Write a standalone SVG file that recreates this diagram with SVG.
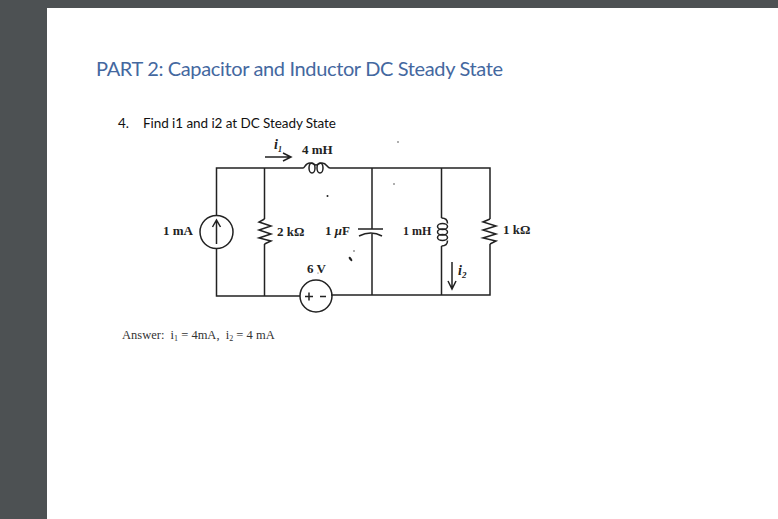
<svg xmlns="http://www.w3.org/2000/svg" width="778" height="519" viewBox="0 0 778 519">
<style>
.w{fill:none;stroke:#222;stroke-width:1.5}
.t{font-family:"Liberation Serif",serif;font-weight:bold;font-size:13px;fill:#222}
.i{font-family:"Liberation Serif",serif;font-style:italic;font-weight:bold;font-size:14px;fill:#222}
.c{font-family:Lato,"Liberation Sans",sans-serif;fill:#111;font-size:13.5px}
</style>
<rect width="778" height="519" fill="#4d5153"/>
<rect x="47" y="8" width="731" height="511" fill="#fff"/>
<text x="96" y="76" font-family="Lato,'Liberation Sans',sans-serif" font-size="20px" fill="#44689f" textLength="407">PART 2: Capacitor and Inductor DC Steady State</text>
<text class="c" x="118" y="128">4.</text>
<text class="c" x="143" y="128" textLength="193">Find i1 and i2 at DC Steady State</text>
<text x="122" y="339" font-family="'Liberation Serif',serif" font-size="12.500px" fill="#333">Answer:&#160; i<tspan font-size="8px" dy="2">1</tspan><tspan dy="-2"> = 4mA,&#160; i</tspan><tspan font-size="8px" dy="2">2</tspan><tspan dy="-2"> = 4 mA</tspan></text>
<g id="connectors">
<path class="w" d="M216.500 215.500V168H303M330 168H490V219M490 244V295H331M300 296H216.500V248.500"/>
<path class="w" d="M264.500 168V219M264.500 244V296"/>
<path class="w" d="M372 168V229M372 234V295"/>
<path class="w" d="M441.500 168V218M441.500 246V295"/>
</g>
<g id="source-1ma">
<circle class="w" cx="216.500" cy="232" r="16.500"/>
<path class="w" d="M216.500 244V220M212.500 227L216.500 220L220.500 227"/>
<text class="t" x="163" y="235">1 mA</text>
</g>
<g id="resistor-2k">
<path class="w" d="M264.500 219L259 222L271 226L259 230L271 234L259 238L271 241L264.500 244"/>
<text class="t" x="277" y="236">2 kΩ</text>
</g>
<g id="inductor-4mh">
<path class="w" d="M303 168C305 168 305 163 310 163C313 163 314 165 316 165C318 165 319 163 322 163C327 163 327 168 330 168"/>
<ellipse class="w" cx="312" cy="168" rx="3" ry="5"/>
<ellipse class="w" cx="320" cy="168" rx="3" ry="5"/>
<text class="t" x="302" y="154">4 mH</text>
</g>
<g id="current-i1">
<path class="w" d="M265 157H291M283 153L291 157L283 161"/>
<text class="i" x="274" y="149">i<tspan font-size="8px" dy="3">1</tspan></text>
</g>
<g id="capacitor-1uf">
<path class="w" d="M358 229H383M359 236Q371 230 382 236"/>
<text class="t" x="325" y="235">1 <tspan font-style="italic">μ</tspan>F</text>
</g>
<g id="source-6v">
<circle class="w" cx="316" cy="296" r="16"/>
<path class="w" d="M305 296.500H313M309 292.500V300.500M320 296.500H326"/>
<text class="t" x="307" y="273">6 V</text>
</g>
<g id="inductor-1mh">
<path class="w" d="M441.500 218C445 218 447.500 220 447.500 223.500M447.500 240.500C447.500 244 445 246 441.500 246"/>
<ellipse class="w" cx="442.500" cy="226.500" rx="5" ry="3"/>
<ellipse class="w" cx="442.500" cy="232" rx="5" ry="3"/>
<ellipse class="w" cx="442.500" cy="237.500" rx="5" ry="3"/>
<text class="t" x="403" y="235" style="font-size:12px">1 mH</text>
</g>
<g id="current-i2">
<path class="w" d="M452 262V289M448 281L452 289L456 281"/>
<text class="i" x="458" y="275">i<tspan font-size="9px" dy="3">2</tspan></text>
</g>
<g id="resistor-1k">
<path class="w" d="M490 219L483 222L496 226L483 230L496 234L483 238L496 241L490 244"/>
<text class="t" x="503" y="234">1 kΩ</text>
</g>
<g id="specks" fill="#222">
<circle cx="327.500" cy="196" r="1"/>
<ellipse cx="350.500" cy="259" rx="1.200" ry="2.500" transform="rotate(-40 350.500 259)"/>
<circle cx="398" cy="142" r=".7"/>
<circle cx="394" cy="184" r=".7"/>
<circle cx="354" cy="251" r=".7"/>
<circle cx="318" cy="273" r=".5"/>
</g>
</svg>
